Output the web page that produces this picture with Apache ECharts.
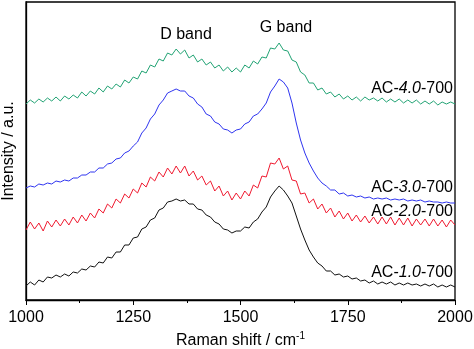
<!DOCTYPE html>
<html>
<head>
<meta charset="utf-8">
<script src="https://cdn.jsdelivr.net/npm/echarts@6/dist/echarts.min.js"></script>
<style>
html,body{margin:0;padding:0;background:#fff;}
#chart{width:474px;height:349px;}
</style>
</head>
<body>
<div id="chart"></div>
<script>
// Raman shift (cm^-1), 1000..2000 step 10
const shiftStart = 1000;
const shiftStep = 10;
const xTicks = [1000, 1250, 1500, 1750, 2000];

// Intensity (a.u., vertically offset traces)
const ac40 = [196,200,197,201,198,202,199,203,199,204,201,205,202,208,204,209,206,212,208,214,
  211,216,213,220,217,223,221,229,227,235,233,241,239,247,245,251,246,250,242,245,
  238,241,235,238,232,235,229,233,228,232,228,235,232,239,236,243,242,252,251,257,
  250,249,240,238,228,225,217,217,210,212,206,208,203,206,201,204,200,203,199,203,
  200,202,199,202,198,201,198,201,197,200,197,200,196,199,196,199,195,198,196,198,196];
const ac30 = [112,114,113,116,115,117,116,119,118,120,119,122,122,125,125,128,128,132,132,136,
  137,141,142,147,149,154,158,167,172,181,186,195,200,207,209,211,209,209,204,202,
  196,193,186,184,178,176,171,170,167,170,171,176,178,184,186,191,197,208,214,221,
  218,212,197,177,160,147,137,129,122,117,114,110,110,106,107,104,105,103,104,102,
  103,101,102,101,102,100,101,100,101,99,100,99,100,98,99,98,98,97,98,97,97];
const ac20 = [70,78,71,77,69,79,73,80,74,81,75,83,77,85,79,87,82,91,87,96,
  92,101,97,106,102,111,107,117,113,123,119,128,123,132,126,134,127,134,124,129,
  120,124,115,119,109,114,104,109,100,107,101,109,104,115,112,124,123,137,136,142,
  131,134,120,119,106,107,97,101,91,96,87,92,83,89,81,87,79,85,78,84,
  77,83,76,83,76,83,75,82,75,82,74,81,75,81,74,81,74,80,73,80,75];
const ac10 = [14,18,15,20,18,23,22,25,23,26,24,28,27,31,30,34,33,38,37,43,
  42,48,48,55,55,62,63,71,73,80,82,90,92,98,99,101,99,100,96,96,
  91,90,85,83,78,76,71,70,67,69,69,73,72,78,81,88,93,103,109,114,
  110,104,97,84,71,60,50,43,37,34,29,29,25,26,23,24,21,22,19,20,
  17,19,16,18,16,18,15,17,15,17,15,16,14,16,14,16,13,15,13,15,13];

const seriesNames = ['AC-4.0-700', 'AC-3.0-700', 'AC-2.0-700', 'AC-1.0-700'];
const seriesColors = ['#22a374', '#2f35f0', '#f01a30', '#111111'];
const seriesValues = [ac40, ac30, ac20, ac10];
// sample label parts: prefix, italic middle, suffix; label anchor (x, intensity)
const labelParts = [['AC-', '4.0', '-700'], ['AC-', '3.0', '-700'], ['AC-', '2.0', '-700'], ['AC-', '1.0', '-700']];
const labelAnchors = [[2000, 211], [2000, 112], [2000, 88], [2000, 27]];
const bandLabels = ['D band', 'G band'];
const bandAnchors = [[1373, 265], [1606, 272]];

function toPairs(arr) {
  return arr.map((v, i) => [shiftStart + i * shiftStep, v]);
}

const FONT = 'Liberation Sans, Arial, Helvetica, sans-serif';

const series = seriesValues.map((vals, idx) => {
  const p = labelParts[idx];
  return {
    name: seriesNames[idx],
    type: 'line',
    data: toPairs(vals),
    showSymbol: false,
    symbol: 'none',
    lineStyle: { color: seriesColors[idx], width: 1 },
    itemStyle: { color: seriesColors[idx] },
    silent: true,
    z: 2,
    markPoint: {
      symbol: 'circle',
      symbolSize: 0,
      silent: true,
      data: [{
        coord: labelAnchors[idx],
        label: {
          show: true,
          position: 'left',
          distance: 2,
          formatter: '{n|' + p[0] + '}{i|' + p[1] + '}{n|' + p[2] + '}',
          rich: {
            n: { fontFamily: FONT, fontSize: 16, color: '#000' },
            i: { fontFamily: FONT, fontSize: 16, fontStyle: 'italic', color: '#000' }
          }
        }
      }]
    }
  };
});

// band annotations attached to an invisible series
series.push({
  name: 'bands',
  type: 'scatter',
  data: [],
  silent: true,
  markPoint: {
    symbol: 'circle',
    symbolSize: 0,
    silent: true,
    data: bandAnchors.map((c, i) => ({
      coord: c,
      label: {
        show: true,
        position: 'inside',
        formatter: bandLabels[i],
        fontFamily: FONT,
        fontSize: 16,
        color: '#000'
      }
    }))
  }
});

const chart = echarts.init(document.getElementById('chart'), null, { renderer: 'canvas' });
chart.setOption({
  animation: false,
  backgroundColor: '#fff',
  grid: {
    left: 26, right: 19, top: 2, bottom: 49,
    containLabel: false,
    outerBoundsMode: 'none',
    show: true, borderColor: '#000', borderWidth: 1.3, backgroundColor: 'transparent'
  },
  xAxis: {
    type: 'value',
    min: 1000, max: 2000, interval: 250,
    name: '{a|Raman shift / cm}{s|-1}',
    nameLocation: 'middle',
    nameGap: 23,
    nameTextStyle: {
      rich: {
        a: { fontFamily: FONT, fontSize: 16, color: '#000' },
        s: { fontFamily: FONT, fontSize: 10, color: '#000', padding: [0, 0, 9, 0] }
      }
    },
    axisLine: { show: true, lineStyle: { color: '#000', width: 1.3 } },
    axisTick: { show: true, inside: false, length: 5, lineStyle: { color: '#000', width: 1 } },
    minorTick: { show: true, splitNumber: 2, length: 3, lineStyle: { color: '#000', width: 1 } },
    splitLine: { show: false },
    axisLabel: {
      fontFamily: FONT, fontSize: 16, color: '#000', margin: 10,
      formatter: (v) => (xTicks.indexOf(v) >= 0 ? String(v) : '')
    }
  },
  yAxis: {
    type: 'value',
    min: 0, max: 298,
    name: 'Intensity / a.u.',
    nameLocation: 'middle',
    nameGap: 9,
    nameRotate: 90,
    nameTextStyle: { fontFamily: FONT, fontSize: 16, color: '#000' },
    axisLine: { show: true, lineStyle: { color: '#000', width: 1.3 } },
    axisTick: { show: false },
    axisLabel: { show: false },
    splitLine: { show: false }
  },
  series: series
});
</script>
</body>
</html>
